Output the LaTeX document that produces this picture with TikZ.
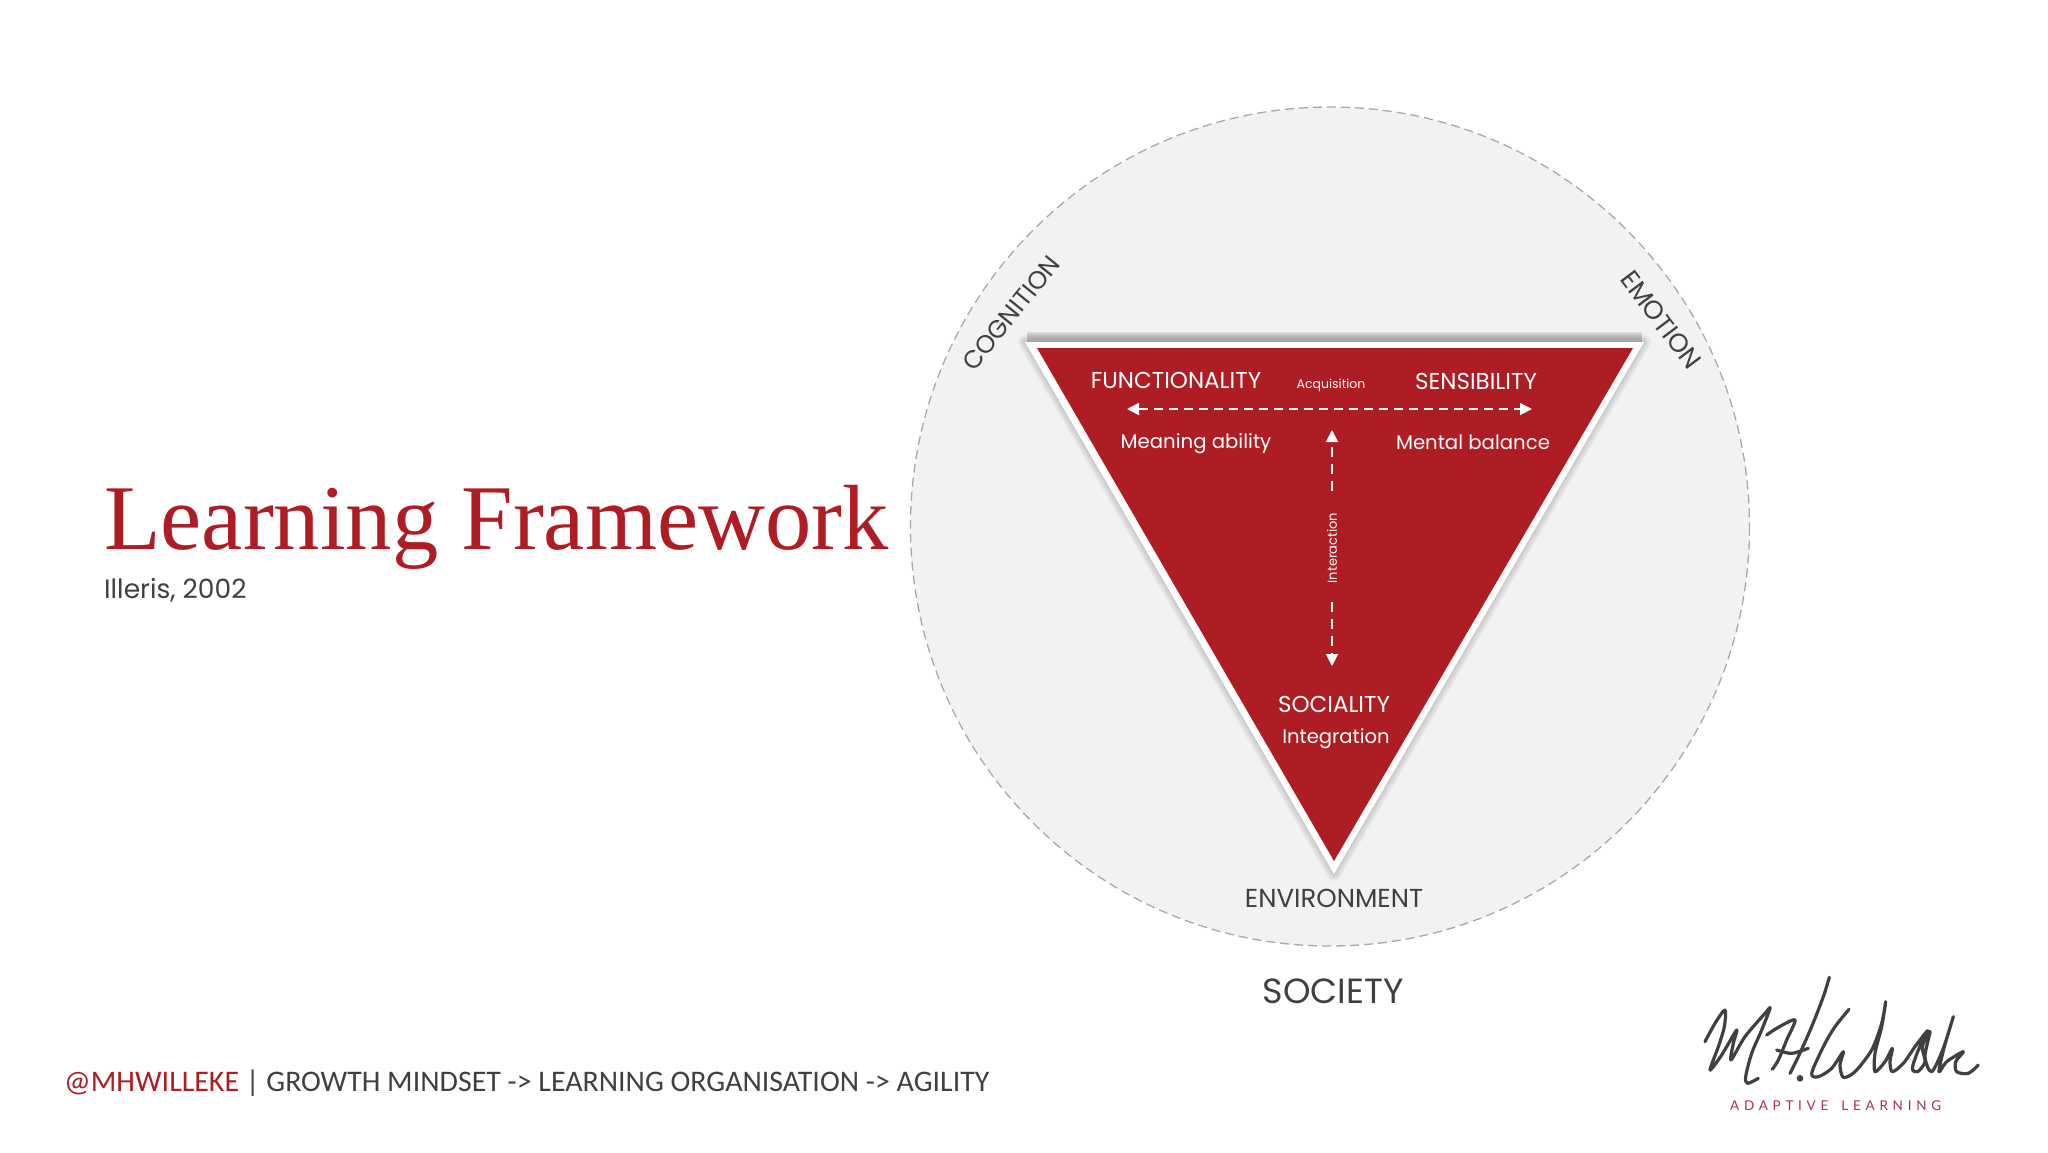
\documentclass[tikz,border=0pt]{standalone}
\usepackage{fontspec}
\usetikzlibrary{arrows.meta}
\newfontfamily\popfont{Poppins}
\newfontfamily\titlefont{Liberation Serif}
\newfontfamily\footfont{Carlito}
\newfontfamily\logofont[LetterSpace=35,WordSpace=1.6]{Lato}
\definecolor{framered}{HTML}{AE1C24}
\definecolor{inkgrey}{HTML}{404040}
\definecolor{discgrey}{HTML}{F2F2F3}
\definecolor{dashgrey}{HTML}{A8A8AA}
\definecolor{logored}{HTML}{A8324E}
\tikzset{
  lab/.style={inner sep=0,anchor=base,font=\popfont\fontsize{#1}{#1}\selectfont},
  redlab/.style={lab=#1,text=white},
  greylab/.style={lab=#1,text=inkgrey},
  dasharrow/.style={white,line width=1.8pt,dash pattern=on 9pt off 6pt,{Triangle[width=12pt,length=12pt]}-{Triangle[width=12pt,length=12pt]}},
  dashsingle/.style={white,line width=1.8pt,dash pattern=on 10pt off 7pt,-{Triangle[width=12pt,length=12pt]}},
  pen/.style={inkgrey,line width=3.2pt,line cap=round,line join=round}
}
\begin{document}
\begin{tikzpicture}[x=1pt,y=-1pt]
\useasboundingbox (0,0) rectangle (2048,1152);
\fill[white] (0,0) rectangle (2048,1152);

\node[inner sep=0,anchor=base west,text=framered,font=\titlefont\fontsize{92.6}{93}\selectfont] (title) at (104,549) {Learning Framework};
\node[greylab=26.5,anchor=base west] (source) at (104,598) {Illeris, 2002};

\filldraw[fill=discgrey,draw=dashgrey,line width=1.3pt,dash pattern=on 9pt off 5pt] (1330,526.5) circle (419.5);

% triangle: soft shadow, white rim, red face
\coordinate (tl) at (1025,342);
\coordinate (tr) at (1644,342);
\coordinate (tb) at (1334,874);
\foreach \w in {2,5,...,14}
  \draw[black,line width=\w pt,opacity=.035,line join=round] (tl) -- (tr) -- (tb) -- cycle;
\foreach \t in {332,334,336,338}
  \fill[black!38,opacity=.3] (1027,\t) rectangle (1642,342);
\fill[white] (tl) -- (tr) -- (tb) -- cycle;
\fill[framered] (1037,348) -- (1633,348) -- (1334,861) -- cycle;

\node[redlab=23] (func) at (1176,388) {FUNCTIONALITY};
\node[redlab=12.5] (acq) at (1331,388) {Acquisition};
\node[redlab=23] (sens) at (1476,389) {SENSIBILITY};
\node[redlab=19.7] (mean) at (1196,448) {Meaning ability};
\node[redlab=19.7] (ment) at (1473,449) {Mental balance};
\node[redlab=23] (soci) at (1334,712) {SOCIALITY};
\node[redlab=19.6] (integ) at (1336,743) {Integration};
\node[inner sep=0,rotate=90,text=white,font=\popfont\fontsize{13}{13}\selectfont] (inter) at (1332,548) {Interaction};

\coordinate (acqw) at (1127,409);
\coordinate (acqe) at (1532,409);
\coordinate (intn) at (1332,430);
\coordinate (intnd) at (1332,491);
\coordinate (ints) at (1332,666);
\coordinate (intsd) at (1332,602);
\draw[dasharrow] (acqw) -- (acqe);
\draw[dashsingle] (intnd) -- (intn);
\draw[dashsingle] (intsd) -- (ints);

\node[greylab=25,rotate=51,anchor=center] (cogn) at (1011,313) {COGNITION};
\node[greylab=26,rotate=-53,anchor=center] (emot) at (1661,320) {EMOTION};
\node[greylab=26] (envi) at (1334,907) {ENVIRONMENT};
\node[greylab=35] (socy) at (1333,1003) {SOCIETY};

\node[inner sep=0,anchor=base west,font=\footfont\fontsize{29.9}{30}\selectfont,text=inkgrey] (foot) at (64,1091) {\textcolor{framered}{@MHWILLEKE} | GROWTH MINDSET -> LEARNING ORGANISATION -> AGILITY};

% signature, drawn by hand
\begin{scope}[shift={(1695,970)},x=.3333pt,y=-.3333pt]
\draw[pen] plot[smooth,tension=.5] coordinates {(30,215) (60,160) (90,120) (88,170) (70,230) (45,300) (80,255) (125,180) (115,220) (108,270) (150,200) (210,130) (225,115) (200,180) (170,250) (152,320) (158,340) (190,325)};
\draw[pen] plot[smooth,tension=.5] coordinates {(215,195) (250,172) (300,150) (275,210) (250,270) (232,298)};
\draw[pen] plot[smooth,tension=.5] coordinates {(403,22) (385,80) (350,170) (310,260) (285,310)};
\draw[pen] plot[smooth,tension=.5] coordinates {(245,240) (290,250) (340,235)};
\fill[inkgrey] (315,325) circle (10);
\end{scope}
\begin{scope}[shift={(1835,990)},x=.3333pt,y=-.3333pt]
\draw[pen] plot[smooth,tension=.5] coordinates {(42,58) (0,110) (-35,170) (-70,250) (-50,260) (-10,235) (25,185) (15,225) (25,262) (60,245) (110,180) (140,100) (152,35) (140,110) (120,190) (120,245) (150,215) (172,175) (165,215) (172,245) (205,220) (240,170) (278,122) (250,180) (232,235) (248,245) (270,215) (262,170) (285,125) (270,200) (290,245) (325,175) (355,80) (328,170) (312,245) (335,215) (385,185) (362,215) (365,245) (400,250) (430,225)};
\end{scope}
\node[inner sep=0,anchor=base west,text=logored,font=\logofont\fontsize{13.5}{13.5}\selectfont] (adapt) at (1730,1110) {ADAPTIVE LEARNING};
\end{tikzpicture}
\end{document}
